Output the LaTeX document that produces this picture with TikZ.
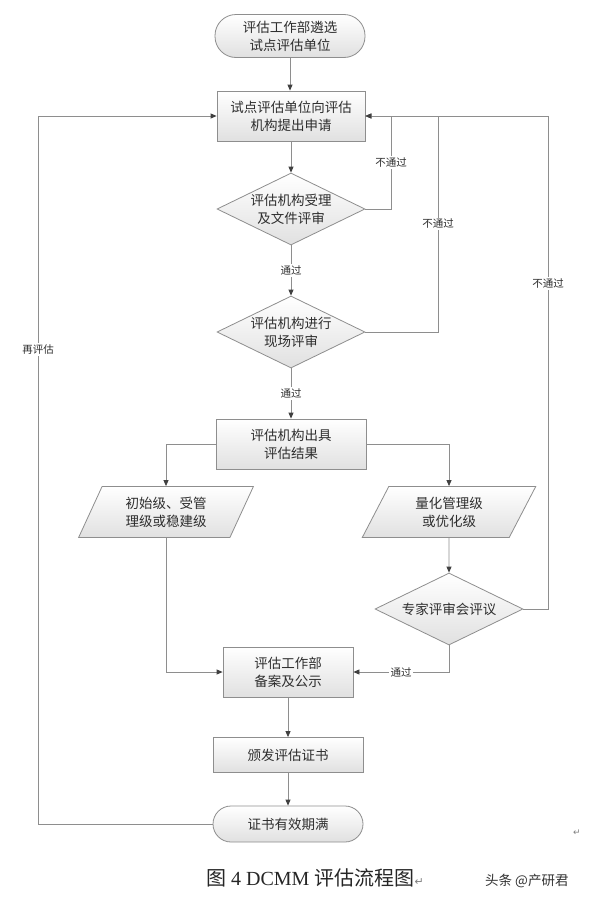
\documentclass[tikz,border=0pt]{standalone}
\usepackage{fontspec}
\setmainfont{Liberation Serif}
\newfontfamily\cjk{Noto Sans CJK SC}
\newfontfamily\dvs{DejaVu Sans}
\usetikzlibrary{shapes.geometric,arrows.meta}
\definecolor{linec}{HTML}{8E8E8E}
\definecolor{txtc}{HTML}{2E2E2E}
\definecolor{tipc}{HTML}{404040}
\tikzset{
  base/.style={draw=linec, line width=0.8pt, top color=white, bottom color=black!12,
    text=txtc, align=center, inner sep=0pt, font=\cjk\fontsize{13.5}{18}\selectfont},
  box/.style={base, rectangle, minimum width=148pt, minimum height=50pt},
  term/.style={base, rectangle, rounded corners=18pt, minimum width=150pt, minimum height=40pt},
  dec/.style={base, diamond, minimum width=148pt, minimum height=72pt},
  para/.style={base, trapezium, trapezium left angle=64, trapezium right angle=116,
    trapezium stretches=true, minimum width=175pt, minimum height=51pt},
  inlabel/.style={text=txtc, align=center, inner sep=0pt, font=\cjk\fontsize{13.5}{18}\selectfont},
  conn/.style={draw=linec, line width=0.8pt},
  arr/.style={conn, -{Triangle[length=6pt,width=5pt,color=tipc]}},
  lbl/.style={fill=white, text=txtc, inner sep=1.5pt, font=\cjk\fontsize{10.5}{12}\selectfont}
}
\begin{document}
\begin{tikzpicture}[x=1pt,y=-1pt]
\useasboundingbox (0,0) rectangle (591,905);
\fill[white] (0,0) rectangle (591,905);
% nodes
\node[term, rounded corners=21pt, minimum height=43pt] (t1) at (290,36) {评估工作部遴选\\试点评估单位};
\node[box] (b1) at (291,116) {试点评估单位向评估\\机构提出申请};
\node[dec, label={[inlabel]center:{评估机构受理\\及文件评审}}] (d1) at (291,209) {};
\node[dec, label={[inlabel]center:{评估机构进行\\现场评审}}] (d2) at (291,332) {};
\node[box, minimum width=150pt] (b2) at (291,444) {评估机构出具\\评估结果};
\node[para] (p1) at (166,512) {初始级、受管\\理级或稳建级};
\node[para] (p2) at (449,512) {量化管理级\\或优化级};
\node[dec, label={[inlabel]center:{专家评审会评议}}] (d3) at (449,609) {};
\node[box, minimum width=130pt] (b3) at (288,672) {评估工作部\\备案及公示};
\node[box, minimum width=150pt, minimum height=35pt] (b4) at (288,755) {颁发评估证书};
\node[term, minimum height=36pt] (t2) at (288,824) {证书有效期满};
% helper coordinates
\coordinate (r1) at (391,0);
\coordinate (r2) at (438,0);
\coordinate (r3) at (548,0);
\coordinate (l1) at (38,0);
% main flow
\draw[arr] (t1.south) -- (t1.south |- b1.north);
\draw[arr] (b1) -- (d1);
\draw[arr] (d1) -- node[lbl]{通过} (d2);
\draw[arr] (d2) -- node[lbl]{通过} (b2);
\draw[arr] (b2.west) -| (p1.north);
\draw[arr] (b2.east) -| (p2.north);
\draw[arr] (p2.south) -- (d3.north);
\draw[arr] (p1.south) |- (b3.west);
\draw[arr] (d3.south) |- node[lbl, pos=0.75]{通过} (b3.east);
\draw[arr] (b3) -- (b4);
\draw[arr] (b4) -- (t2);
% feedback loops
\draw[arr] (d1.east) -- (r1 |- d1.east) -- node[lbl]{不通过} (r1 |- b1.east) -- (b1.east);
\draw[conn] (d2.east) -- (r2 |- d2.east) -- node[lbl]{不通过} (r2 |- b1.east);
\draw[arr] (d3.east) -- (r3 |- d3.east) -- node[lbl, pos=0.66]{不通过} (r3 |- b1.east) -- (b1.east);
\draw[arr] (t2.west) -- (l1 |- t2.west) -- node[lbl, pos=0.67]{再评估} (l1 |- b1.west) -- (b1.west);
% caption
\node[text=gray, font=\dvs\fontsize{9}{10}\selectfont] (ret) at (577,833) {↵};
\node[anchor=west, text=black!85, inner sep=0pt] (cap) at (206,878)
  {{\cjk\fontsize{20}{22}\selectfont 图}\fontsize{20}{22}\selectfont{} 4 DCMM {\cjk\fontsize{20}{22}\selectfont 评估流程图}{\dvs\fontsize{11}{12}\selectfont\color{gray}↵}};
\node[anchor=west, text=black!80, inner sep=0pt, font=\cjk\fontsize{13.5}{15}\selectfont] (wm) at (485,881) {头条 @产研君};
\end{tikzpicture}
\end{document}
